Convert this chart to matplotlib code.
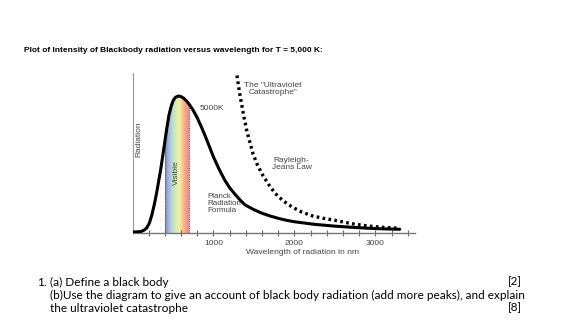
"""
Blackbody radiation at 5000 K: Planck curve against the Rayleigh-Jeans law
"""
import matplotlib
matplotlib.use("Agg")
import matplotlib.pyplot as plt
from matplotlib.colors import LinearSegmentedColormap
import numpy as np

plt.rcParams['font.family'] = ['Liberation Sans', 'DejaVu Sans']

# values (wavelength in nm, intensity relative to the peak)
planck_nm = [0, 100, 140, 175, 210, 240, 270, 300, 325, 350, 375, 400, 425, 450,
             475, 500, 530, 565, 600, 630, 665, 700, 750, 800, 850, 900, 950,
             1000, 1070, 1140, 1200, 1270, 1330, 1390, 1500, 1600, 1700, 1800,
             1900, 2000, 2250, 2500, 2700, 2900, 3100, 3300]
planck_val = [0.007, 0.01, 0.02, 0.036, 0.075, 0.134, 0.21, 0.30, 0.385, 0.47,
              0.57, 0.67, 0.77, 0.86, 0.92, 0.965, 0.99, 1.0, 0.995, 0.985,
              0.965, 0.94, 0.895, 0.84, 0.775, 0.705, 0.63, 0.555, 0.465, 0.385,
              0.33, 0.28, 0.24, 0.205, 0.17, 0.144, 0.124, 0.107, 0.093, 0.082,
              0.063, 0.05, 0.042, 0.035, 0.03, 0.027]

rj_nm = [1290, 1320, 1350, 1380, 1410, 1450, 1490, 1540, 1600, 1680, 1760, 1860,
         1970, 2090, 2220, 2350, 2480, 2690, 2890, 3100, 3300]
rj_val = [1.15, 1.03, 0.93, 0.835, 0.75, 0.66, 0.575, 0.5, 0.43, 0.355, 0.29,
          0.235, 0.19, 0.153, 0.125, 0.108, 0.095, 0.07, 0.052, 0.041, 0.034]

visible_nm = [400, 700]
major_ticks = [1000, 2000, 3000]
minor_ticks = [200, 400, 600, 800, 1200, 1400, 1600, 1800, 2200, 2400, 2600,
               2800, 3200, 3400]

title = "Plot of Intensity of Blackbody radiation versus wavelength for T = 5,000 K:"
question_lines = [
    ("1.", "(a) Define a black body", "[2]"),
    ("", "(b)Use the diagram to give an account of black body radiation (add more peaks), and explain", ""),
    ("", "the ultraviolet catastrophe", "[8]"),
]

W, H = 572, 330
fig = plt.figure(figsize=(W / 100, H / 100), dpi=100)
ax = fig.add_axes([132.5 / W, 97 / H, 282.5 / W, 160 / H])

# visible band, coloured like a spectrum and clipped under the curve
spectrum = LinearSegmentedColormap.from_list(
    'spec', ['#8a86c4', '#9fb6e0', '#b5dcd0', '#d8ecb0', '#f4efa8', '#f8c48e',
             '#f19a8e', '#ee8a86'])
x_nm = np.array(planck_nm)
y_val = np.array(planck_val)
band = (x_nm >= visible_nm[0]) & (x_nm <= visible_nm[1])
fill = ax.fill_between(x_nm[band], 0, y_val[band], facecolor='none', edgecolor='none')
grad = np.linspace(0, 1, 256).reshape(1, -1)
im = ax.imshow(grad, cmap=spectrum, aspect='auto',
               extent=[visible_nm[0], visible_nm[1], 0, 1.0], zorder=1)
im.set_clip_path(fill.get_paths()[0], transform=ax.transData)
for v in visible_nm:
    top = y_val[x_nm == v][0]
    ax.plot([v, v], [0, top], ls=(0, (1, 1)), color='#555577', lw=0.8, zorder=2)

ax.plot(planck_nm, planck_val, color='black', lw=2.2, zorder=3,
        solid_capstyle='round', solid_joinstyle='round')
ax.plot(rj_nm, rj_val, color='black', lw=2.4, ls=(0, (0.8, 1.0)), zorder=3)

ax.set_xlim(0, 3488)
ax.set_ylim(0, 1.168)
ax.set_xticks(major_ticks)
ax.set_xticks(minor_ticks, minor=True)
ax.set_yticks([])
ax.tick_params(axis='x', which='both', direction='inout', length=4, width=0.8,
               color='#666666', labelsize=6, labelcolor='#444444', pad=3)
for s in ['top', 'right']:
    ax.spines[s].set_visible(False)
ax.spines['left'].set_color('#999999')
ax.spines['left'].set_linewidth(0.8)
ax.spines['bottom'].set_color('#777777')
ax.spines['bottom'].set_linewidth(1.0)
ax.set_xlabel('Wavelength of radiation in nm', fontsize=6.1, color='#444444')
ax.xaxis.set_label_coords((303 - 132.5) / 282.5, -(252 - 233) / 160)
ax.xaxis.label.set_va('center')

txt = dict(fontsize=6, color='#444444')
ax.text(74, 0.686, 'Radiation', rotation=90, ha='center', va='center', **txt)
ax.text(549, 0.44, 'Visible', rotation=90, ha='center', va='center', **txt)
ax.text(833, 0.912, '5000K', ha='left', va='center', **txt)
ax.text(1735, 1.05, 'The "Ultraviolet\nCatastrophe"', ha='center', va='center',
        linespacing=1.0, **txt)
ax.text(1963, 0.507, 'Rayleigh-\nJeans Law', ha='center', va='center',
        linespacing=1.0, **txt)
ax.text(930, 0.215, 'Planck\nRadiation\nFormula', ha='left', va='center',
        linespacing=1.0, fontsize=5.8, color='#444444')

fig.text(24 / W, 1 - 51 / H, title, fontsize=6.0, fontweight='bold',
         ha='left', va='center')

line_y = [282, 295, 308]
for (num, body, mark), yy in zip(question_lines, line_y):
    fy = 1 - yy / H
    if num:
        fig.text(37 / W, fy, num, fontsize=8.5, family='Lato', va='center')
    fig.text(50 / W, fy, body, fontsize=8.5, family='Lato', va='center')
    if mark:
        fig.text(522 / W, fy, mark, fontsize=8.5, family='Lato', va='center', ha='right')

fig.savefig('out.png', dpi=100)
